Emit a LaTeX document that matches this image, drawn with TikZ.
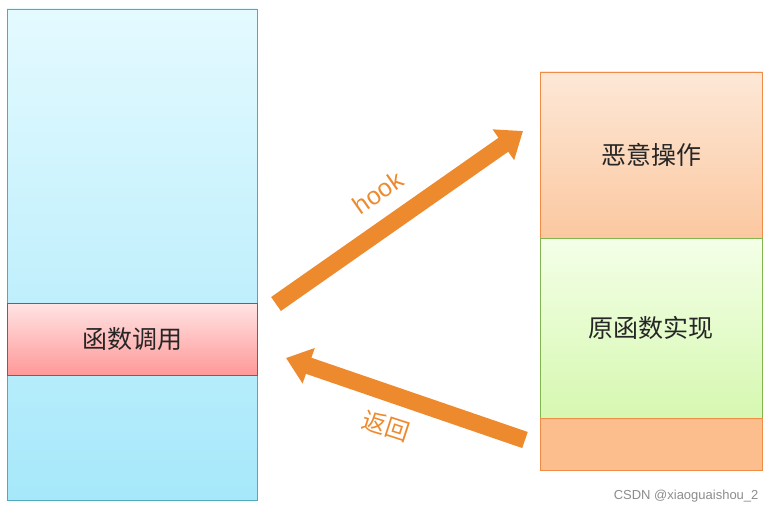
\documentclass[tikz,border=0pt]{standalone}
\usepackage{fontspec}
\setmainfont{Liberation Sans}
\newfontfamily\cjk{Noto Sans CJK SC}
\usetikzlibrary{arrows.meta}
\definecolor{arr}{HTML}{EE8A2E}
\definecolor{cyanb}{RGB}{80,170,190}
\definecolor{redb}{RGB}{200,60,60}
\definecolor{orb}{RGB}{240,140,70}
\definecolor{grb}{RGB}{130,180,80}
\tikzset{
  box/.style={draw=#1, line width=0.8pt},
  lbl/.style={font=\cjk\fontsize{25}{25}\selectfont, text=black!85},
  bigarrow/.style={draw=arr, line width=17pt, -{Triangle[width=36pt,length=24pt]}},
  albl/.style={font=\fontsize{25}{25}\selectfont, text=arr}
}
\begin{document}
\begin{tikzpicture}[x=1pt,y=-1pt]
\useasboundingbox (0,0) rectangle (774,516);
\node[box=cyanb, minimum width=250pt, minimum height=491pt, inner sep=0pt, top color={rgb,255:red,228;green,250;blue,255}, bottom color={rgb,255:red,166;green,232;blue,250}] (col) at (132,254.5) {};
\node[box=redb, minimum width=250pt, minimum height=72pt, inner sep=0pt, top color={rgb,255:red,255;green,228;blue,228}, bottom color={rgb,255:red,255;green,152;blue,152}, lbl] (call) at (132,339) {函数调用};
\node[box=orb, minimum width=222pt, minimum height=166pt, inner sep=0pt, top color={rgb,255:red,253;green,232;blue,215}, bottom color={rgb,255:red,251;green,200;blue,160}, lbl] (evil) at (651,155) {恶意操作};
\node[box=grb, minimum width=222pt, minimum height=180pt, inner sep=0pt, top color={rgb,255:red,244;green,255;blue,232}, bottom color={rgb,255:red,214;green,248;blue,176}, lbl] (orig) at (651,328) {原函数实现};
\node[box=orb, minimum width=222pt, minimum height=52pt, inner sep=0pt, fill={rgb,255:red,252;green,190;blue,140}] (ret) at (651,444) {};
\coordinate (h1) at (276,304);
\coordinate (h2) at (523,131);
\coordinate (r1) at (525,440);
\coordinate (r2) at (286,358);
\draw[bigarrow] (h1) -- (h2);
\draw[bigarrow] (r1) -- (r2);
\node[albl, rotate=35] (hook) at (378,193) {hook};
\node[albl, font=\cjk\fontsize{24}{24}\selectfont, rotate=-18] (back) at (386,426) {返回};
\node[font=\fontsize{13}{13}\selectfont, text=black!45, anchor=east] (wm) at (762,496) {CSDN @xiaoguaishou\_2};
\end{tikzpicture}
\end{document}
